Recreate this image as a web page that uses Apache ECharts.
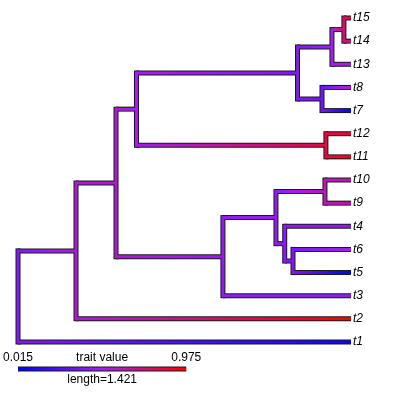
<!DOCTYPE html>
<html><head><meta charset="utf-8">
<script src="https://cdn.jsdelivr.net/npm/echarts@6/dist/echarts.min.js"></script>
<style>html,body{margin:0;padding:0;background:#fff}#c{width:400px;height:400px}</style>
</head><body><div id="c"></div>
<script>
// ---- data ----
const tipNames   = ['t1','t2','t3','t5','t6','t4','t9','t10','t11','t12','t7','t8','t13','t14','t15'];
const tipParents = ['root','A','I','M','M','L','K','K','E','E','G','G','F','H','H'];
const tipValues  = [0.06,0.975,0.45,0.015,0.5,0.42,0.65,0.62,0.92,0.88,0.03,0.55,0.5,0.7,0.9];
const treeHeight = 2.813;
const nodeNames   = ['root','A','B','C','D','F','H','G','E','I','J','L','M','K'];
const nodeParents = [null,'root','A','B','C','D','F','D','C','B','I','J','L','J'];
const nodeHeights = [0,0.490,0.828,1.001,2.361,2.652,2.753,2.568,2.601,1.731,2.179,2.253,2.323,2.593];
const nodeValues  = [0.4,0.55,0.55,0.5,0.4,0.5,0.75,0.35,0.85,0.45,0.45,0.42,0.38,0.6];
const traitRange  = [0.015,0.975];
const scaleLength = 1.421;
const legendTitle = 'trait value';

// ---- colour map (blue -> purple -> red) ----
const ramp = [[0,0,255],[160,32,240],[255,0,0]];
function col(v){
  let t = (v-traitRange[0])/(traitRange[1]-traitRange[0]);
  t = Math.max(0,Math.min(1,t));
  const s = t*(ramp.length-1); const i = Math.min(Math.floor(s), ramp.length-2); const f = s-i;
  const c = ramp[i].map((a,k)=>Math.round(a+(ramp[i+1][k]-a)*f));
  return 'rgb('+c.join(',')+')';
}

// ---- layout of tree (y from tip order) ----
const info = {};
nodeNames.forEach((n,i)=>{info[n]={h:nodeHeights[i],v:nodeValues[i],p:nodeParents[i],ch:[]};});
tipNames.forEach((n,i)=>{info[n]={h:treeHeight,v:tipValues[i],p:tipParents[i],ch:[],y:i+1,tip:true};});
Object.keys(info).forEach(n=>{const p=info[n].p; if(p) info[p].ch.push(n);});
function getY(n){const d=info[n]; if(d.y!==undefined) return d.y;
  const ys=d.ch.map(getY); d.ymin=Math.min(...ys); d.ymax=Math.max(...ys); d.y=(d.ymin+d.ymax)/2; return d.y;}
getY('root');

const edges = [];
Object.keys(info).forEach(n=>{const d=info[n];
  if(d.p){const p=info[d.p]; edges.push({kind:'h',x0:p.h,x1:d.h,y:d.y,v0:p.v,v1:d.v,label:d.tip?n:''});}
});
nodeNames.forEach(n=>{const d=info[n]; edges.push({kind:'v',x:d.h,y0:d.ymin,y1:d.ymax,v:d.v});});

function grad(v0,v1){
  const stops=[];
  for(let k=0;k<=8;k++){const f=k/8; stops.push({offset:f,color:col(v0+(v1-v0)*f)});}
  return new echarts.graphic.LinearGradient(0,0,1,0,stops);
}

const chart = echarts.init(document.getElementById('c'),null,{renderer:'canvas'});
function render(layer){
  return function(params,api){
    const e = edges[params.dataIndex];
    const w = layer==='outline'?5:3, hw=w/2;
    if(e.kind==='h'){
      const p0=api.coord([e.x0,e.y]), p1=api.coord([e.x1,e.y]);
      const children=[{type:'rect',shape:{x:p0[0],y:p0[1]-hw,width:p1[0]-p0[0],height:w},
        style:{fill: layer==='outline'?'#1a1a1a':grad(e.v0,e.v1)}}];
      if(layer==='color' && e.label){
        children.push({type:'text',x:p1[0]+2,y:p1[1],style:{text:e.label,fill:'#000',
          font:'italic 12px "Liberation Sans", Arial, sans-serif',verticalAlign:'middle',align:'left'}});
      }
      return {type:'group',children};
    } else {
      const p0=api.coord([e.x,e.y0]), p1=api.coord([e.x,e.y1]);
      const top=Math.min(p0[1],p1[1]), bot=Math.max(p0[1],p1[1]);
      return {type:'rect',shape:{x:p0[0]-hw,y:top-hw,width:w,height:bot-top+w},
        style:{fill: layer==='outline'?'#1a1a1a':col(e.v)}};
    }
  };
}
const dataArr = edges.map(e=>e.kind==='h'?[e.x0,e.y]:[e.x,e.y0]);
chart.setOption({
  animation:false,
  grid:{left:18,right:49,top:18,bottom:58},
  xAxis:{type:'value',min:0,max:treeHeight,show:false},
  yAxis:{type:'value',min:1,max:tipNames.length,show:false},
  series:[
    {type:'custom',clip:false,z:1,renderItem:render('outline'),data:dataArr},
    {type:'custom',clip:false,z:2,renderItem:render('color'),data:dataArr}
  ]
});
const xL = chart.convertToPixel({xAxisIndex:0},0);
const xR = chart.convertToPixel({xAxisIndex:0},scaleLength);
const lf = '12px "Liberation Sans", Arial, sans-serif';
const barStops=[]; for(let k=0;k<=10;k++){const f=k/10; barStops.push({offset:f,color:col(traitRange[0]+(traitRange[1]-traitRange[0])*f)});}
chart.setOption({graphic:[
  {type:'rect',shape:{x:xL,y:366.5,width:xR-xL,height:5},style:{fill:'#1a1a1a'}},
  {type:'rect',shape:{x:xL,y:367.5,width:xR-xL,height:3},style:{fill:new echarts.graphic.LinearGradient(0,0,1,0,barStops)}},
  {type:'text',x:xL,y:358,style:{text:String(traitRange[0]),font:lf,fill:'#000',align:'center',verticalAlign:'middle'}},
  {type:'text',x:xR,y:358,style:{text:String(traitRange[1]),font:lf,fill:'#000',align:'center',verticalAlign:'middle'}},
  {type:'text',x:(xL+xR)/2,y:358,style:{text:legendTitle,font:lf,fill:'#000',align:'center',verticalAlign:'middle'}},
  {type:'text',x:(xL+xR)/2,y:380,style:{text:'length='+scaleLength,font:lf,fill:'#000',align:'center',verticalAlign:'middle'}}
]});
</script></body></html>
